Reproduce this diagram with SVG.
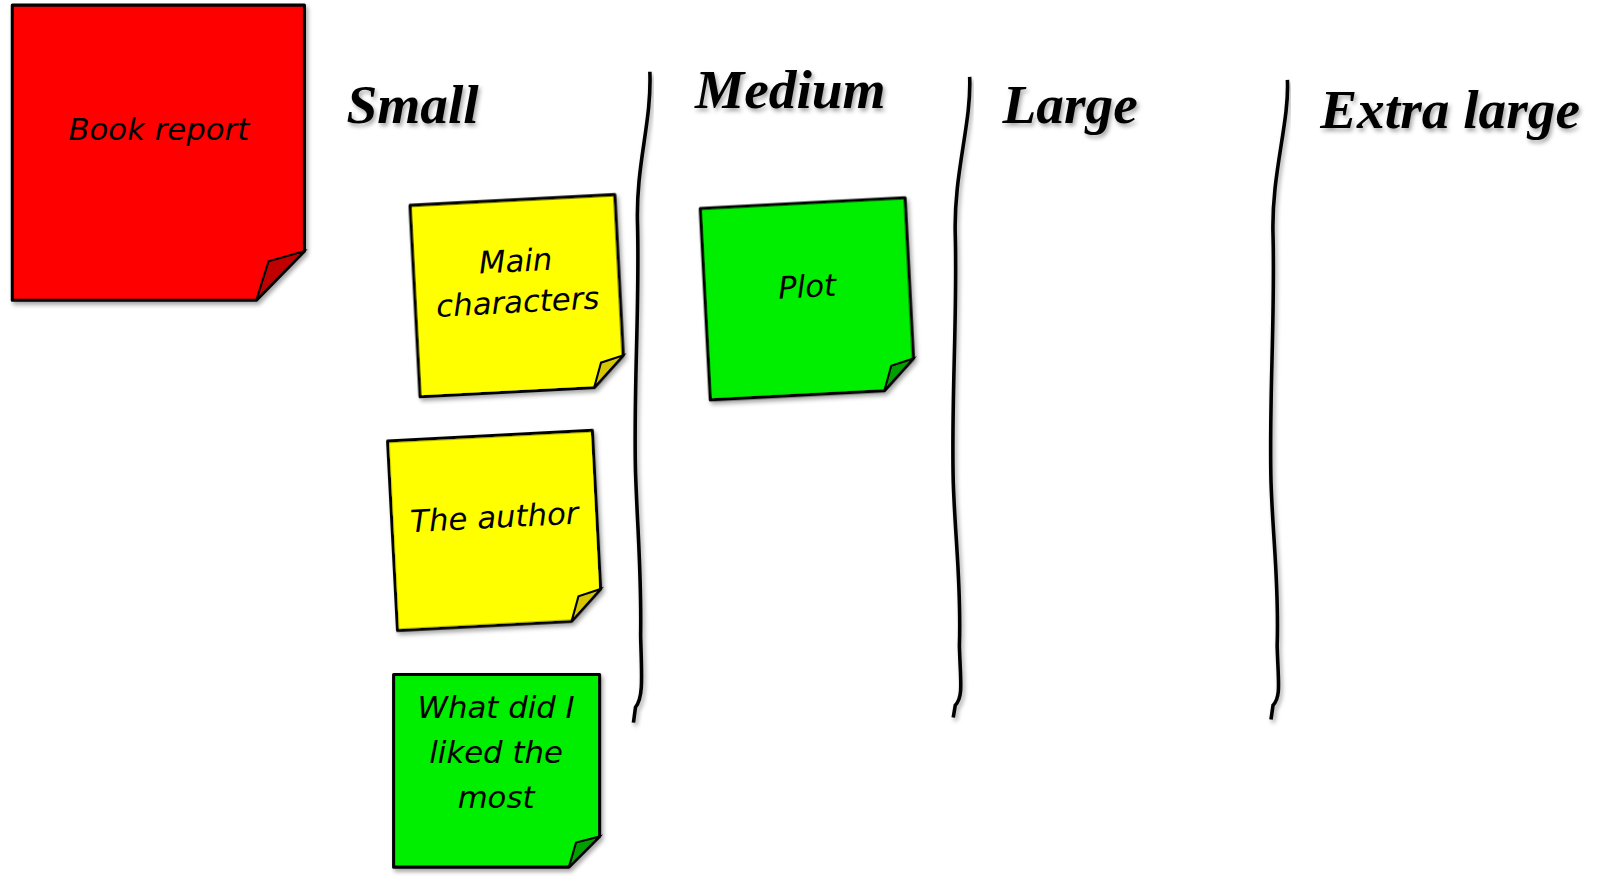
<svg xmlns="http://www.w3.org/2000/svg" width="1600" height="878" viewBox="0 0 1600 878">
<defs>
<filter id="sh" x="-10%" y="-10%" width="130%" height="130%"><feDropShadow dx="2" dy="3" stdDeviation="2" flood-color="#000" flood-opacity="0.35"/></filter>
</defs>
<style>
.note{stroke:#000;stroke-width:3;stroke-linejoin:round;filter:url(#sh)}
.fold{stroke:#000;stroke-width:2}
.nt{font-family:"Comic Sans MS","DejaVu Sans",sans-serif;font-style:italic;font-size:30px;fill:#000;text-anchor:middle}
.hd{font-family:"Liberation Serif",serif;font-style:italic;font-weight:bold;font-size:54px;fill:#000;filter:url(#sh)}
.ln{fill:none;stroke:#000;stroke-width:3.5;filter:url(#sh)}
</style>
<rect width="1600" height="878" fill="#fff"/>
<g transform="scale(1.025)">
<g id="book-report">
<path class="note" d="M12,5 L297,5 L297,245 L250,293 L12,293 Z" fill="#ff0000"/>
<path class="fold" d="M250,293 L262,255 L297,245 Z" fill="#c00000"/>
<text class="nt" x="155" y="137" font-size="34">Book report</text>
</g>
<g id="main-characters" transform="rotate(-3 505 292)">
<path class="note" d="M405,195 L605,195 L605,352 L575,382 L405,382 Z" fill="#ffff00"/>
<path class="fold" d="M575,382 L583,358 L605,352 Z" fill="#d6c800"/>
<text class="nt" x="505" y="265">Main</text>
<text class="nt" x="505" y="305">characters</text>
</g>
<g id="the-author" transform="rotate(-3 483 520)">
<path class="note" d="M383,425 L583,425 L583,580 L553,610 L383,610 Z" fill="#ffff00"/>
<path class="fold" d="M553,610 L561,586 L583,580 Z" fill="#d6c800"/>
<text class="nt" x="483" y="515">The author</text>
</g>
<g id="liked-most">
<path class="note" d="M384,658 L585,658 L585,816 L555,846 L384,846 Z" fill="#00ee00"/>
<path class="fold" d="M555,846 L562,822 L585,816 Z" fill="#00a000"/>
<text class="nt" x="484" y="700">What did I</text>
<text class="nt" x="484" y="744">liked the</text>
<text class="nt" x="484" y="788">most</text>
</g>
<g id="plot" transform="rotate(-3 788 292)">
<path class="note" d="M688,198 L888,198 L888,355 L858,385 L688,385 Z" fill="#00ee00"/>
<path class="fold" d="M858,385 L866,361 L888,355 Z" fill="#00a000"/>
<text class="nt" x="788" y="290">Plot</text>
</g>
<g id="headings">
<text class="hd" x="338" y="120">Small</text>
<text class="hd" x="678" y="105">Medium</text>
<text class="hd" x="978" y="120">Large</text>
<text class="hd" x="1288" y="125">Extra large</text>
</g>
<g id="connectors">
<path class="ln" d="M634,70 C636,120 620,160 622,220 C624,300 618,380 620,460 C622,520 626,560 625,620 C626,660 628,680 620,690 L618,705"/>
<path class="ln" d="M946,75 C948,120 930,170 932,230 C934,310 928,390 930,470 C932,530 938,570 936,630 C937,665 940,680 932,688 L930,700"/>
<path class="ln" d="M1256,78 C1258,120 1240,170 1242,230 C1244,310 1238,390 1240,470 C1242,530 1248,570 1246,630 C1247,665 1250,680 1242,688 L1240,702"/>
</g>
</g>
</svg>
